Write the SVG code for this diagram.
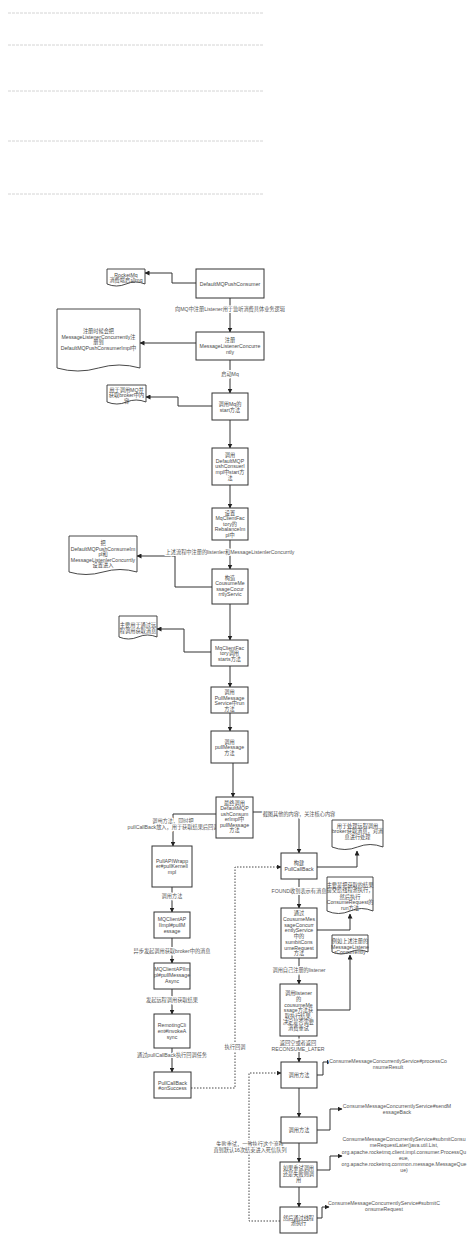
<svg xmlns="http://www.w3.org/2000/svg" width="474" height="1243" viewBox="0 0 474 1243">
<style>
text{font-family:"Liberation Sans","Noto Sans CJK SC",sans-serif;font-size:5.2px;fill:#474747;text-anchor:middle;dominant-baseline:central}
.lbl{stroke:#fff;stroke-width:2.2px;paint-order:stroke;fill:#555}
.box{fill:#fff;stroke:#333;stroke-width:1}
.doc{fill:#fff;stroke:#333;stroke-width:0.9}
.e{fill:none;stroke:#333;stroke-width:1;marker-end:url(#ah)}
.d{fill:none;stroke:#333;stroke-width:0.9;stroke-dasharray:1.5 1.5;marker-end:url(#ah)}
.top{stroke:#d4d4d4;stroke-width:1;stroke-dasharray:3 1}
</style>
<defs>
<marker id="ah" markerUnits="userSpaceOnUse" markerWidth="5" markerHeight="5" refX="4.5" refY="2.5" orient="auto">
<path d="M0,0 L5,2.5 L0,5 Z" fill="#222"/>
</marker>
</defs>
<rect width="474" height="1243" fill="#fff"/>
<g id="top-lines">
<line class="top" x1="8" y1="13" x2="263" y2="13"/>
<line class="top" x1="8" y1="45" x2="263" y2="45"/>
<line class="top" x1="8" y1="91" x2="263" y2="91"/>
<line class="top" x1="8" y1="141" x2="263" y2="141"/>
<line class="top" x1="8" y1="194" x2="263" y2="194"/>
</g>
<g id="connectors">
<path class="e" d="M196,283 H172 V273 H145"/>
<path class="e" d="M230,298 V332"/>
<path class="e" d="M196,343 H140"/>
<path class="e" d="M230,360 V393"/>
<path class="e" d="M212,406 H178 V397 H146"/>
<path class="e" d="M230,420 V448"/>
<path class="e" d="M230,485 V508"/>
<path class="e" d="M230,540 V569"/>
<path class="e" d="M212,587 H175 V556 H137"/>
<path class="e" d="M230,604 V640"/>
<path class="e" d="M211,652 H184 V629 H157"/>
<path class="e" d="M230,666 V687"/>
<path class="e" d="M230,713 V731"/>
<path class="e" d="M233,763 V797"/>
<path class="e" d="M216,814 H173 V846"/>
<path class="e" d="M172,887 V912"/>
<path class="e" d="M172,938 V963"/>
<path class="e" d="M172,989 V1014"/>
<path class="e" d="M172,1048 V1072"/>
<path class="d" d="M191,1088 H235 V867 H281"/>
<path class="e" d="M253,812 H299 V853"/>
<path class="e" d="M317,867 H357 V851"/>
<path class="e" d="M299,879 V908"/>
<path class="e" d="M317,930 H350 V914"/>
<path class="e" d="M299,958 V984"/>
<path class="e" d="M317,1010 H350 V955"/>
<path class="e" d="M299,1036 V1062"/>
<path class="e" d="M317,1075 H323 V1062 H331"/>
<path class="e" d="M299,1088 V1117"/>
<path class="e" d="M317,1130 H330 V1109 H342"/>
<path class="e" d="M299,1143 V1162"/>
<path class="e" d="M317,1170 H330 V1156 H342"/>
<path class="e" d="M299,1187 V1207"/>
<path class="e" d="M317,1218 H322 V1207 H329"/>
<path class="d" d="M280,1221 H249 V1073 H281"/>
</g>
<g id="edge-labels">
<text class="lbl" x="230" y="309">向MQ中注册Listener用于监听消费具体业务逻辑</text>
<text class="lbl" x="230" y="374">启动Mq</text>
<text class="lbl" x="230" y="552">上述流程中注册的listenler和MessageListenlerConcurrtly</text>
<text class="lbl" x="173" y="821">调用方法，同时把</text>
<text class="lbl" x="173" y="827">pullCallBack放入，用于获取结果后回调</text>
<text class="lbl" x="299" y="814">截图其他的内容，关注核心内容</text>
<text class="lbl" x="172" y="896">调用方法</text>
<text class="lbl" x="172" y="951">异步发起调用获取broker中的消息</text>
<text class="lbl" x="172" y="1000">发起远程调用获取结果</text>
<text class="lbl" x="172" y="1055">通过pullCallBack执行回调任务</text>
<text class="lbl" x="235" y="1047">执行回调</text>
<text class="lbl" x="299" y="891">FOUND收到表示有消息</text>
<text class="lbl" x="299" y="970">调用自己注册的listener</text>
<text class="lbl" x="298" y="1043">返回空或者返回</text>
<text class="lbl" x="298" y="1049">RECONSUME_LATER</text>
<text class="lbl" x="388" y="1061">ConsumeMessageConcurrentlyService#processCo</text>
<text class="lbl" x="388" y="1067">nsumeResult</text>
<text class="lbl" x="397" y="1106">ConsumeMessageConcurrentlyService#sendM</text>
<text class="lbl" x="397" y="1112">essageBack</text>
<text class="lbl" x="404" y="1139">ConsumeMessageConcurrentlyService#submitConsu</text>
<text class="lbl" x="404" y="1145">meRequestLater(java.util.List,</text>
<text class="lbl" x="404" y="1152">org.apache.rocketmq.client.impl.consumer.ProcessQu</text>
<text class="lbl" x="404" y="1158">eue,</text>
<text class="lbl" x="404" y="1164">org.apache.rocketmq.common.message.MessageQue</text>
<text class="lbl" x="404" y="1170">ue)</text>
<text class="lbl" x="250" y="1144">失败重试，一致执行这个流程</text>
<text class="lbl" x="250" y="1150">直到默认16次结束进入死信队列</text>
<text class="lbl" x="384" y="1203">ConsumeMessageConcurrentlyService#submitC</text>
<text class="lbl" x="384" y="1209">onsumeRequest</text>
</g>
<g id="n1"><rect class="box" x="196" y="269" width="68" height="29"/><text x="230" y="283.5">DefaultMQPushConsumer</text></g>
<g id="d1"><path class="doc" d="M107,269 H145 V284 Q135.5,280 126,284 Q116.5,288 107,284 Z"/><text x="126" y="274.5">RocketMq</text><text x="126" y="280">消费端启动mq</text></g>
<g id="n2"><rect class="box" x="196" y="332" width="68" height="28"/><text x="230" y="340">注册</text><text x="230" y="346">MessageListenerConcurre</text><text x="230" y="352">ntly</text></g>
<g id="d2"><path class="doc" d="M57,309 H140 V368 Q119,362 98.5,368 Q78,374 57,368 Z"/><text x="98.5" y="331">注册时候会把</text><text x="98.5" y="336.5">MessageListenerConcurrently注</text><text x="98.5" y="342">册到</text><text x="98.5" y="347.5">DefaultMQPushConsumerImpl中</text></g>
<g id="n3"><rect class="box" x="212" y="393" width="36" height="27"/><text x="230" y="403.5">调用Mq的</text><text x="230" y="409.5">start方法</text></g>
<g id="d3"><path class="doc" d="M107,385 H146 V402 Q136,398 126.5,402 Q117,406 107,402 Z"/><text x="126.5" y="389.5">用于调用MQ并</text><text x="126.5" y="395">获取broker中内</text><text x="126.5" y="400.5">容</text></g>
<g id="n4"><rect class="box" x="212" y="448" width="36" height="37"/><text x="230" y="455">调用</text><text x="230" y="460.7">DefaultMQP</text><text x="230" y="466.4">ushConsuerI</text><text x="230" y="472.1">mpl中start方</text><text x="230" y="477.8">法</text></g>
<g id="n5"><rect class="box" x="212" y="508" width="36" height="32"/><text x="230" y="512.5">设置</text><text x="230" y="518">MqClientFac</text><text x="230" y="523.5">tory的</text><text x="230" y="529">RebalanceIm</text><text x="230" y="534.5">pl中</text></g>
<g id="n6"><rect class="box" x="212" y="569" width="36" height="35"/><text x="230" y="577.5">构造</text><text x="230" y="583">CousumeMe</text><text x="230" y="588.5">ssageCocur</text><text x="230" y="594">rrtlyServic</text></g>
<g id="d4"><path class="doc" d="M69,536 H137 V572 Q120,567 103,572 Q86,577 69,572 Z"/><text x="103" y="543">把</text><text x="103" y="548.5">DefaultMQPushConsumeIm</text><text x="103" y="554">pl和</text><text x="103" y="559.5">MessageListenlerConcurrtly</text><text x="103" y="565">设置进入</text></g>
<g id="n7"><rect class="box" x="211" y="640" width="37" height="26"/><text x="229.5" y="647.5">MqClientFac</text><text x="229.5" y="653">tory调用</text><text x="229.5" y="658.5">starts方法</text></g>
<g id="d5"><path class="doc" d="M119,616 H157 V637 Q147.5,633 138,637 Q128.5,641 119,637 Z"/><text x="138" y="625">主要用于通过远</text><text x="138" y="630.7">程调用获取消息</text></g>
<g id="n8"><rect class="box" x="211" y="687" width="37" height="26"/><text x="229.5" y="692">调用</text><text x="229.5" y="697.7">PullMessage</text><text x="229.5" y="703.4">Service中run</text><text x="229.5" y="709">方法</text></g>
<g id="n9"><rect class="box" x="211" y="731" width="37" height="32"/><text x="229.5" y="741.5">调用</text><text x="229.5" y="747.2">pullMessage</text><text x="229.5" y="753">方法</text></g>
<g id="n10"><rect class="box" x="216" y="797" width="37" height="41"/><text x="234.5" y="802.5">最终调用</text><text x="234.5" y="808">DefaultMQP</text><text x="234.5" y="813.5">ushConsum</text><text x="234.5" y="819">erImpl中</text><text x="234.5" y="824.5">pullMessage</text><text x="234.5" y="830">方法</text></g>
<g id="n11"><rect class="box" x="152" y="846" width="40" height="41"/><text x="172" y="860.5">PullAPIWrapp</text><text x="172" y="866.2">er#pullKernelI</text><text x="172" y="872">mpl</text></g>
<g id="n12"><rect class="box" x="154" y="912" width="36" height="26"/><text x="172" y="919.3">MQClientAP</text><text x="172" y="925">IImpl#pullM</text><text x="172" y="930.7">essage</text></g>
<g id="n13"><rect class="box" x="154" y="963" width="36" height="26"/><text x="172" y="969.3">MQClientAPIIm</text><text x="172" y="975">pl#pullMessage</text><text x="172" y="980.7">Async</text></g>
<g id="n14"><rect class="box" x="154" y="1014" width="36" height="34"/><text x="172" y="1025.3">RemotingCli</text><text x="172" y="1031">ent#invokeA</text><text x="172" y="1036.7">sync</text></g>
<g id="n15"><rect class="box" x="154" y="1072" width="37" height="26"/><text x="172.5" y="1082.5">PullCallBack</text><text x="172.5" y="1088.2">#onSuccess</text></g>
<g id="n16"><rect class="box" x="281" y="853" width="36" height="26"/><text x="299" y="863.2">构建</text><text x="299" y="869">PullCallBack</text></g>
<g id="d6"><path class="doc" d="M332,820 H383 V847 Q370,842 357.5,847 Q345,852 332,847 Z"/><text x="357.5" y="825.5">用于处理远程调用</text><text x="357.5" y="831.2">broker获取消息，对消</text><text x="357.5" y="837">息进行处理</text></g>
<g id="n17"><rect class="box" x="281" y="908" width="36" height="50"/><text x="299" y="913">通过</text><text x="299" y="918.8">CousumeMes</text><text x="299" y="924.5">sageConcurr</text><text x="299" y="930.3">entlyService</text><text x="299" y="936">中的</text><text x="299" y="941.8">sumbitCons</text><text x="299" y="947.5">umeRequest</text><text x="299" y="953.3">方法</text></g>
<g id="d7"><path class="doc" d="M327,877 H373 V911 Q361.5,906 350,911 Q338.5,916 327,911 Z"/><text x="350" y="884.5">主要是把获取的结果</text><text x="350" y="890.3">提交给线程池执行，</text><text x="350" y="896.5">然后执行</text><text x="350" y="902.3">ConsumeRequest的</text><text x="350" y="908">run方法</text></g>
<g id="n18"><rect class="box" x="280" y="984" width="37" height="52"/><text x="298.5" y="993">调用listener</text><text x="298.5" y="998.7">的</text><text x="298.5" y="1004.5">cousumeMe</text><text x="298.5" y="1010.3">ssage方法获</text><text x="298.5" y="1016">取执行结果,</text><text x="298.5" y="1021.8">决定是否需要</text><text x="298.5" y="1027.5">消费重试</text></g>
<g id="d8"><path class="doc" d="M332,935 H368 V952 Q359,948 350,952 Q341,956 332,952 Z"/><text x="350" y="941">例如上述注册的</text><text x="350" y="946.7">MessageListene</text><text x="350" y="952.3">rConcurrently</text></g>
<g id="n19"><rect class="box" x="281" y="1062" width="36" height="26"/><text x="299" y="1075">调用方法</text></g>
<g id="n20"><rect class="box" x="281" y="1117" width="36" height="26"/><text x="299" y="1130">调用方法</text></g>
<g id="n21"><rect class="box" x="280" y="1162" width="37" height="25"/><text x="298.5" y="1168.3">如果重试调用</text><text x="298.5" y="1174">还是失败则调</text><text x="298.5" y="1179.7">用</text></g>
<g id="n22"><rect class="box" x="280" y="1207" width="37" height="26"/><text x="298.5" y="1217.5">然后通过线程</text><text x="298.5" y="1223.3">池执行</text></g>
</svg>
